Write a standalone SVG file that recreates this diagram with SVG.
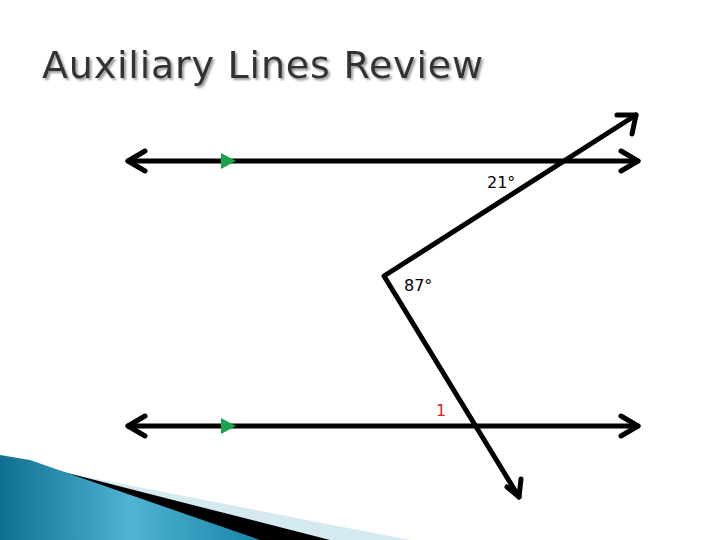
<svg xmlns="http://www.w3.org/2000/svg" width="720" height="540" viewBox="0 0 720 540">
<style>
.ln{stroke:#000;stroke-width:5;fill:none;stroke-linecap:round}
.hd{stroke:#000;stroke-width:5;fill:none;stroke-linecap:round;stroke-linejoin:round}
.lb{font-family:"DejaVu Sans",sans-serif;font-size:16px;fill:#000}
.tt{font-family:"DejaVu Sans",sans-serif;font-size:38px}
</style>
<defs>
<linearGradient id="bg" x1="0" y1="0" x2="1" y2="0"><stop offset="0" stop-color="#0f6f8e"/><stop offset="0.5" stop-color="#4fb3d4"/><stop offset="1" stop-color="#1a85a8"/></linearGradient>
<filter id="sh" x="-5%" y="-20%" width="110%" height="150%"><feDropShadow dx="2" dy="2" stdDeviation="0.8" flood-color="#999"/></filter>
</defs>
<rect width="720" height="540" fill="#fff"/>
<g id="decor">
<polygon points="0,470 40,468 410,540 0,540" fill="#d5e9f0"/>
<polygon points="0,458 40,466 330,540 0,540" fill="#000"/>
<polygon points="0,455 30,460 260,540 0,540" fill="url(#bg)"/>
</g>
<text class="tt" x="42" y="78" fill="#333" textLength="441" filter="url(#sh)">Auxiliary Lines Review</text>
<g id="connectors">
<line class="ln" x1="128" y1="161" x2="638" y2="161"/>
<polyline class="hd" points="145,151 128,161 145,171"/>
<polyline class="hd" points="621,151 638,161 621,171"/>
<line class="ln" x1="128" y1="426" x2="638" y2="426"/>
<polyline class="hd" points="145,416 128,426 145,436"/>
<polyline class="hd" points="621,416 638,426 621,436"/>
<polyline class="hd" points="636,115 384,276 519,497"/>
<polyline class="hd" points="617,115 636,115 632,134"/>
<polyline class="hd" points="507,487 519,497 521,479"/>
<polygon points="221,153 236,161 221,169" fill="#1aa34a"/>
<polygon points="221,418 236,426 221,434" fill="#1aa34a"/>
</g>
<text class="lb" x="487" y="188">21°</text>
<text class="lb" x="404" y="291">87°</text>
<text class="lb" x="436" y="416" style="fill:#e02020">1</text>
</svg>
